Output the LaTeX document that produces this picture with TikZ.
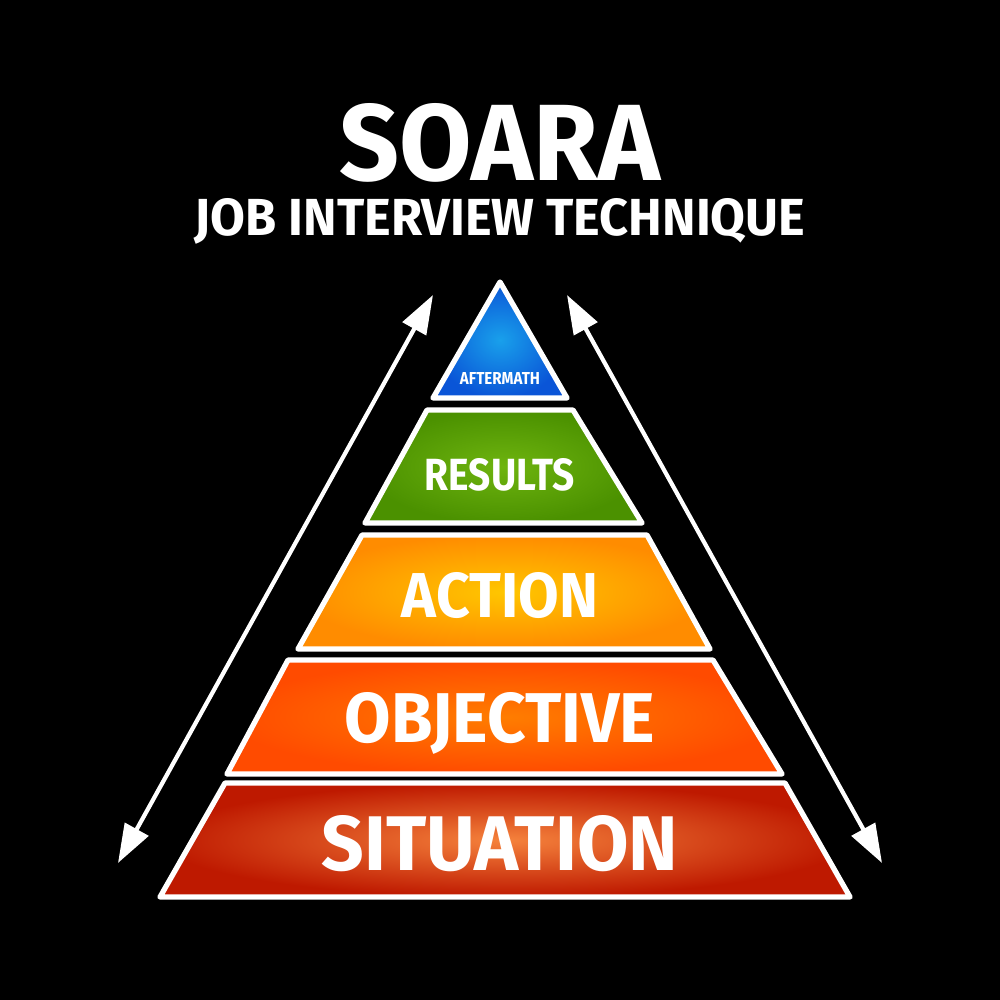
\documentclass[tikz,border=0pt]{standalone}
\usepackage{fontspec}
\setmainfont{Fira Sans}
\usepackage{graphicx}
\usetikzlibrary{arrows.meta}
\newcommand{\fitbox}[3]{\resizebox{#1}{#2}{\bfseries #3}}
\definecolor{aftIn}{RGB}{25,160,235}
\definecolor{aftOut}{RGB}{10,85,215}
\definecolor{resIn}{RGB}{110,180,15}
\definecolor{resOut}{RGB}{75,145,0}
\definecolor{actIn}{RGB}{255,198,0}
\definecolor{actOut}{RGB}{255,140,0}
\definecolor{objIn}{RGB}{255,125,0}
\definecolor{objOut}{RGB}{255,75,0}
\definecolor{sitIn}{RGB}{245,130,60}
\definecolor{sitOut}{RGB}{190,25,0}
\begin{document}
\begin{tikzpicture}[x=0.01cm,y=-0.01cm,
  layer/.style={draw=white,line width=1.5pt,line join=round},
  lbl/.style={text=white,inner sep=0pt,anchor=base},
  dbl/.style={white,line width=1.2pt,{Triangle[length=11pt,width=7.5pt]}-{Triangle[length=11pt,width=7.5pt]}}]
\fill[black] (0,0) rectangle (1000,1000);
\useasboundingbox (0,0) rectangle (1000,1000);

% pyramid layers
\shadedraw[layer,inner color=aftIn,outer color=aftOut] (500,282) -- (567,398) -- (433,398) -- cycle;
\shadedraw[layer,inner color=resIn,outer color=resOut] (427,410) -- (573,410) -- (642,523) -- (365,523) -- cycle;
\shadedraw[layer,inner color=actIn,outer color=actOut] (362,535) -- (647,535) -- (710,649) -- (298,649) -- cycle;
\shadedraw[layer,inner color=objIn,outer color=objOut] (288,660) -- (713,660) -- (782,774) -- (227,774) -- cycle;
\shadedraw[layer,inner color=sitIn,outer color=sitOut] (225,783) -- (785,783) -- (850,897) -- (160,897) -- cycle;

% labels
\node[lbl] (soara) at (500,180) {\fitbox{3.2cm}{0.77cm}{SOARA}};
\node[lbl] (sub) at (500,235) {\fitbox{6.1cm}{0.37cm}{JOB INTERVIEW TECHNIQUE}};
\node[lbl] (aft) at (500,384) {\fitbox{0.8cm}{0.12cm}{AFTERMATH}};
\node[lbl] (res) at (500,490) {\fitbox{1.5cm}{0.32cm}{RESULTS}};
\node[lbl] (act) at (500,617) {\fitbox{1.96cm}{0.45cm}{ACTION}};
\node[lbl] (obj) at (500,742) {\fitbox{3.1cm}{0.50cm}{OBJECTIVE}};
\node[lbl] (sit) at (500,870) {\fitbox{3.56cm}{0.55cm}{SITUATION}};

% side arrows
\coordinate (la1) at (433,295);
\coordinate (la2) at (118,863);
\coordinate (ra1) at (567,295);
\coordinate (ra2) at (882,863);
\draw[dbl] (la2) -- (la1);
\draw[dbl] (ra2) -- (ra1);
\end{tikzpicture}
\end{document}
